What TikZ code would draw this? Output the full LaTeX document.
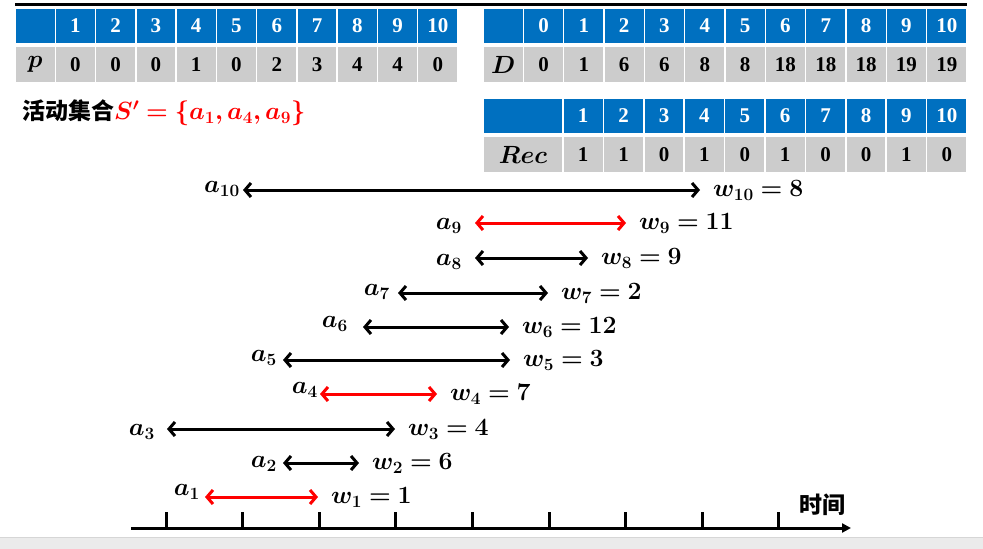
\documentclass[tikz,border=0pt]{standalone}
\usepackage{amsmath}
\usepackage{bm}
\usepackage{fontspec}
\setmainfont{Liberation Serif}
\newfontfamily\cjk{Noto Sans CJK SC}
\usetikzlibrary{arrows.meta}

\definecolor{headblue}{HTML}{0070C0}
\definecolor{cellgray}{HTML}{CCCCCC}
\definecolor{actred}{HTML}{FF0000}

\begin{document}
\begin{tikzpicture}[x=1pt, y=-1pt,
    hcell/.style={fill=headblue, text=white, minimum width=38.8pt,
        minimum height=34pt, inner sep=0pt,
        font=\fontsize{21}{24}\selectfont\bfseries},
    dcell/.style={fill=cellgray, text=black, minimum width=38.8pt,
        minimum height=35pt, inner sep=0pt,
        font=\fontsize{21}{24}\selectfont\bfseries},
    rowlab/.style={font=\fontsize{24}{28}\selectfont},
    interval/.style={line width=3pt,
        {Straight Barb[length=6pt,width=14pt]}-{Straight Barb[length=6pt,width=14pt]}},
    alab/.style={anchor=mid east, inner sep=0pt, font=\fontsize{23}{27}\selectfont},
    wlab/.style={anchor=mid west, inner sep=0pt, font=\fontsize{23}{27}\selectfont}]

    % Canvas
    \useasboundingbox (0,0) rectangle (983,549);
    \fill[black!8] (0,537) rectangle (983,549);
    \draw[black!16, line width=1.5pt] (0,537.5) -- (983,537.5);

    % Top rule
    \draw[line width=3pt] (15,4.5) -- (967,4.5);

    % Table p
    \def\cw{40.27}
    \node[hcell] (ph0) at ({15+\cw*0.5},26) {};
    \node[dcell, rowlab] (pd0) at ({15+\cw*0.5},64.5) {$\bm{p}$};
    \foreach \v [count=\i] in {0,0,0,1,0,2,3,4,4,0} {
        \node[hcell] (ph\i) at ({15+\cw*(\i+0.5)},26) {\i};
        \node[dcell] (pd\i) at ({15+\cw*(\i+0.5)},64.5) {\v};
    }

    % Table D
    \def\dw{40.33}
    \node[hcell] (Dh) at ({483+\dw*0.5},26) {};
    \node[dcell, rowlab] (Dd) at ({483+\dw*0.5},64.5) {$\bm{D}$};
    \foreach \v [count=\i from 0] in {0,1,6,6,8,8,18,18,18,19,19} {
        \node[hcell] (Dh\i) at ({483+\dw*(\i+1.5)},26) {\i};
        \node[dcell] (Dd\i) at ({483+\dw*(\i+1.5)},64.5) {\v};
    }

    % Table Rec
    \def\rw{40.4}
    \node[hcell, minimum width=78.5pt] (rh0) at (523,116) {};
    \node[dcell, rowlab, minimum width=78.5pt] (rd0) at (523,154.5) {$\bm{Rec}$};
    \foreach \v [count=\i] in {1,1,0,1,0,1,0,0,1,0} {
        \node[hcell] (rh\i) at ({563+\rw*(\i-0.5)},116) {\i};
        \node[dcell] (rd\i) at ({563+\rw*(\i-0.5)},154.5) {\v};
    }

    % Selected set
    \node[anchor=west, inner sep=0pt, font=\fontsize{23}{27}\selectfont] (set) at (22,113)
        {{\cjk\bfseries 活动集合}\textcolor{actred}{$\bm{S' = \{a_1, a_4, a_9\}}$}};

    % Activities
    \foreach \k/\sx/\ex/\yy/\lx/\ly/\ww/\col in {
        1/205/318/497/200/493/1/actred,
        2/283/359/463/277/465/6/black,
        3/167/395/429/155/433/4/black,
        4/320/437/394/318/391/7/actred,
        5/283/510/360/277/359/3/black,
        6/363/509/327/348/325/12/black,
        7/398/548/293/390/293/2/black,
        8/475/588/258/462/263/9/black,
        9/475/626/223/462/227/11/actred,
        10/243/700/190/240/190/8/black} {
        \coordinate (s\k) at (\sx,\yy);
        \coordinate (e\k) at (\ex,\yy);
        \draw[interval, \col] (s\k) -- (e\k);
        \node[alab] (a\k) at (\lx,\ly) {$\bm{a_{\k}}$};
        \node[wlab] (w\k) at ([shift={(13,4)}]e\k) {$\bm{w_{\k} = \ww}$};
    }

    % Time axis
    \coordinate (t0) at (131,528);
    \coordinate (t1) at (851,528);
    \draw[line width=3pt, -{Triangle[length=9pt,width=9pt]}] (t0) -- (t1);
    \foreach \k in {0,...,8}
        \draw[line width=3pt] ({166+76.6*\k},528) -- ++(0,-16);
    \node[font=\cjk\bfseries\fontsize{23}{27}\selectfont] (time) at (822,505) {时间};

\end{tikzpicture}
\end{document}
